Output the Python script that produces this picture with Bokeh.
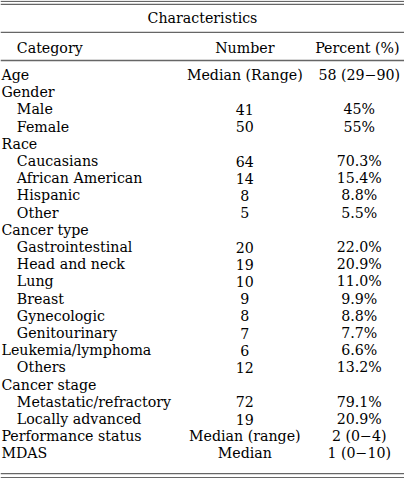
from bokeh.plotting import figure
from bokeh.models import Range1d
from bokeh.core.properties import value
from bokeh.embed import file_html
from bokeh.resources import INLINE

# table content
title = "Characteristics"
headers = ["Category", "Number", "Percent (%)"]
categories = ["Age", "Gender", "Male", "Female", "Race", "Caucasians",
              "African American", "Hispanic", "Other", "Cancer type",
              "Gastrointestinal", "Head and neck", "Lung", "Breast",
              "Gynecologic", "Genitourinary", "Leukemia/lymphoma", "Others",
              "Cancer stage", "Metastatic/refractory", "Locally advanced",
              "Performance status", "MDAS"]
indent = [0, 0, 1, 1, 0, 1, 1, 1, 1, 0, 1, 1, 1, 1, 1, 1, 0, 1, 0, 1, 1, 0, 0]
numbers = ["Median (Range)", "", "41", "50", "", "64", "14", "8", "5", "",
           "20", "19", "10", "9", "8", "7", "6", "12", "", "72", "19",
           "Median (range)", "Median"]
percents = ["58 (29\u221290)", "", "45%", "55%", "", "70.3%", "15.4%", "8.8%",
            "5.5%", "", "22.0%", "20.9%", "11.0%", "9.9%", "8.8%", "7.7%",
            "6.6%", "13.2%", "", "79.1%", "20.9%", "2 (0\u22124)", "1 (0\u221210)"]

FONT = value("DejaVu Serif")
FS = "14.2px"
INK = "#000000"
RULE = "#666666"

p = figure(width=404, height=478, output_backend="svg", toolbar_location=None,
           x_range=Range1d(0, 420), y_range=Range1d(494, 0), min_border=0)
p.axis.visible = False
p.grid.visible = False
p.outline_line_color = None

row_y = [77 + i * 17.78 for i in range(len(categories))]
col_x = [1 + 16 * k for k in indent]

p.text(x=col_x, y=row_y, text=categories, text_font=FONT, text_font_size=FS,
       text_color=INK, text_baseline="middle", text_align="left")
p.text(x=[254] * len(numbers), y=row_y, text=numbers, text_font=FONT,
       text_font_size=FS, text_color=INK, text_baseline="middle", text_align="center")
p.text(x=[373] * len(percents), y=row_y, text=percents, text_font=FONT,
       text_font_size=FS, text_color=INK, text_baseline="middle", text_align="center")

# title and column headers
p.text(x=[210], y=[18], text=[title], text_font=FONT, text_font_size=FS,
       text_color=INK, text_baseline="middle", text_align="center")
p.text(x=[17, 254, 371], y=[49] * 3, text=headers, text_font=FONT, text_font_size=FS,
       text_color=INK, text_baseline="middle", text_align=["left", "center", "center"])

# rules
rule_y = [1, 4, 33, 62, 489, 493]
p.segment(x0=[0] * len(rule_y), x1=[420] * len(rule_y), y0=rule_y, y1=rule_y,
          line_color=RULE, line_width=1.3)

open("out.html", "w").write(file_html(p, INLINE))
